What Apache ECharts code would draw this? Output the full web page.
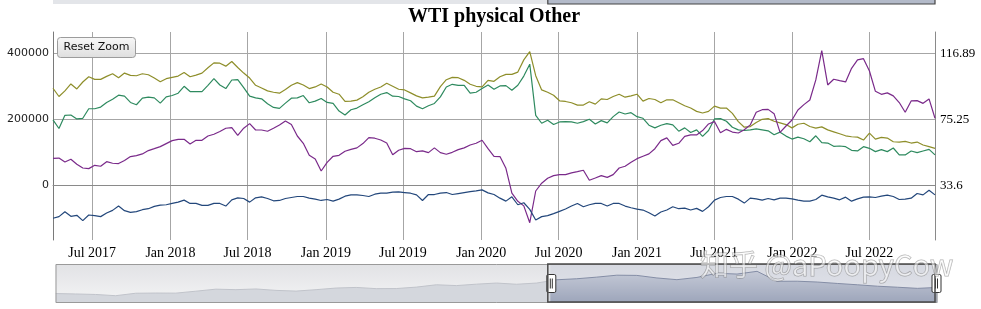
<!DOCTYPE html>
<html>
<head>
<meta charset="utf-8">
<script src="https://cdn.jsdelivr.net/npm/echarts/dist/echarts.min.js"></script>
<style>html,body{margin:0;padding:0;background:#fff}#chart{width:981px;height:309px}</style>
</head>
<body>
<div id="chart"></div>
<script>
// ---------------- DATA ----------------
const titleText = 'WTI physical Other';
const firstDate = [2017, 2, 31];      // 2017-03-31, biweekly observations
const stepDays = 14;
const pointCount = 149;

// left axis series (contracts)
const oliveValues = [
 294000,269000,286000,307000,292000,313000,329000,321000,321000,330000,338000,326000,340000,333000,332000,338000,335000,325000,314000,323000,327000,331000,342000,329000,334000,340000,356000,371000,370000,361000,375000,357000,340000,325000,303000,295000,286000,
 282000,279000,290000,303000,311000,304000,293000,298000,307000,298000,282000,276000,254000,255000,258000,268000,282000,291000,298000,309000,300000,291000,289000,280000,271000,265000,267000,270000,299000,320000,327000,326000,318000,306000,300000,298000,318000,
 315000,329000,336000,336000,343000,380000,405000,332000,289000,282000,273000,256000,254000,250000,243000,243000,253000,246000,262000,260000,269000,276000,267000,271000,276000,255000,263000,260000,250000,259000,259000,250000,241000,234000,224000,219000,224000,
 240000,234000,234000,218000,193000,176000,178000,190000,200000,202000,194000,189000,184000,174000,185000,188000,178000,173000,177000,168000,162000,156000,150000,147000,146000,137000,158000,140000,145000,143000,132000,131000,133000,128000,131000,122000,117000,112000];
const greenValues = [
 198000,172000,212000,213000,201000,203000,232000,232000,237000,251000,261000,273000,270000,251000,244000,264000,267000,265000,249000,268000,272000,279000,300000,284000,284000,284000,303000,323000,304000,293000,319000,320000,296000,270000,265000,262000,247000,
 236000,233000,249000,264000,265000,272000,250000,255000,263000,251000,248000,225000,213000,229000,234000,244000,253000,265000,276000,281000,270000,269000,262000,256000,240000,232000,241000,248000,268000,298000,306000,303000,303000,279000,282000,293000,304000,
 291000,301000,302000,288000,303000,331000,367000,212000,188000,197000,184000,192000,193000,192000,188000,193000,200000,186000,196000,189000,208000,222000,216000,220000,208000,203000,182000,174000,182000,187000,183000,164000,174000,160000,168000,148000,166000,
 201000,202000,194000,176000,168000,166000,168000,171000,168000,165000,153000,161000,149000,140000,146000,141000,132000,150000,129000,128000,118000,119000,117000,106000,104000,117000,112000,102000,108000,102000,113000,92000,92000,104000,99000,104000,109000,92000];
const blueValues = [
 -100000,-95000,-80000,-94000,-91000,-107000,-90000,-92000,-95000,-84000,-76000,-63000,-77000,-82000,-80000,-74000,-71000,-64000,-60000,-59000,-55000,-51000,-45000,-55000,-55000,-61000,-61000,-55000,-55000,-63000,-44000,-38000,-40000,-51000,-38000,-35000,-40000,
 -47000,-46000,-40000,-37000,-34000,-34000,-39000,-42000,-46000,-43000,-48000,-42000,-33000,-29000,-29000,-31000,-34000,-27000,-24000,-24000,-21000,-20000,-22000,-24000,-29000,-46000,-28000,-28000,-24000,-22000,-28000,-25000,-22000,-19000,-17000,-14000,-23000,
 -28000,-39000,-48000,-35000,-59000,-53000,-73000,-105000,-95000,-92000,-86000,-79000,-72000,-63000,-55000,-65000,-59000,-55000,-55000,-63000,-55000,-55000,-63000,-68000,-72000,-75000,-83000,-93000,-81000,-75000,-65000,-71000,-69000,-75000,-70000,-79000,-65000,
 -45000,-37000,-34000,-34000,-42000,-54000,-39000,-41000,-45000,-40000,-44000,-39000,-39000,-41000,-45000,-48000,-48000,-43000,-30000,-35000,-39000,-44000,-36000,-48000,-41000,-36000,-35000,-37000,-33000,-30000,-34000,-43000,-42000,-39000,-25000,-29000,-15000,-29000];
// right axis series (WTI price, USD)
const purpleValues = [
 50.6,50.8,48.3,50.0,46.9,44.5,44.1,46.2,45.6,48.5,47.5,47.3,49.2,51.7,52.3,53.4,55.5,56.7,58.0,59.9,61.8,62.6,62.6,59.7,62.0,62.0,64.7,65.8,67.5,69.6,70.0,65.1,69.6,72.5,68.5,68.5,67.7,
 69.6,71.7,74.2,71.9,64.7,60.1,52.5,50.2,42.6,48.1,51.9,52.5,55.1,56.3,57.2,59.9,63.7,63.3,62.2,60.3,52.9,55.7,56.9,56.7,54.8,55.3,54.2,57.2,54.2,53.2,54.4,56.1,57.2,59.0,60.1,62.0,56.7,
 51.9,51.7,44.3,28.6,23.5,20.6,10.0,30.0,34.9,38.0,39.7,40.3,40.3,41.4,42.2,43.1,36.8,38.2,39.7,38.6,40.3,44.5,45.6,48.1,50.4,51.9,53.4,56.7,61.8,63.5,58.8,60.1,64.5,65.4,65.4,68.1,72.3,
 73.8,66.8,68.9,67.2,66.6,68.7,71.7,79.7,81.3,81.5,78.8,67.0,71.0,74.8,81.1,84.5,87.4,100.1,118.6,96.9,100.5,99.6,98.8,107.4,112.7,113.5,105.7,92.9,91.0,91.9,90.0,85.8,79.7,86.8,87.0,85.3,88.1,75.9];

// axis ticks
const leftTickValues = [0, 200000, 400000];
const rightTickLabels = ['33.6', '75.25', '116.89'];
const leftMin = -165800, leftMax = 464500;

// navigator series (evenly spaced across the full range)
const navigatorValues = [67000,63000,58000,46000,70000,72000,71000,90000,110000,105000,112000,98000,91000,105000,121000,127000,115000,116000,130000,153000,145000,159000,170000,158000,170000,202000,212000,228000,247000,245000,220000,203000,225000,266000,258000,285000,187000,188000,180000,166000,153000,139000,129000,118000,127000];
const navigatorStartPercent = 56.1;
const watermarkText = '知乎 @aPoopyCow';

// ---------------- BUILD ----------------
const dates = [];
for (let i = 0; i < pointCount; i++) {
  dates.push(new Date(firstDate[0], firstDate[1], firstDate[2] + i * stepDays).getTime());
}
const pair = (vals) => vals.map((v, i) => [dates[i], v]);
const rSlope = (116.89 - 33.6) / 400000;
const toRight = (v) => 33.6 + v * rSlope;
const navCats = navigatorValues.map((v, i) => String(i));

const MONTHS = ['Jan','Feb','Mar','Apr','May','Jun','Jul','Aug','Sep','Oct','Nov','Dec'];

const plotLeft = 53, plotRight = 935, plotW = plotRight - plotLeft;

const chart = echarts.init(document.getElementById('chart'), null, {renderer: 'canvas'});
const lineBase = {type: 'line', showSymbol: false, symbol: 'none', animation: false, silent: true};

chart.setOption({
  animation: false,
  backgroundColor: '#ffffff',
  grid: [
    {left: plotLeft, right: 981 - plotRight, top: 32, height: 208},
    {left: plotLeft, right: 981 - plotRight, top: 264, height: 39, show: false}
  ],
  xAxis: [
    {
      type: 'time', gridIndex: 0,
      min: dates[0], max: dates[dates.length - 1],
      splitNumber: 11,
      minInterval: 182 * 86400000, maxInterval: 182 * 86400000,
      axisLine: {show: true, lineStyle: {color: '#8a8a8a', width: 1}},
      axisTick: {show: false},
      splitLine: {show: true, lineStyle: {color: '#a6a6a6', width: 1}},
      axisLabel: {
        showMinLabel: false, showMaxLabel: false,
        fontFamily: 'Liberation Serif', fontSize: 14, color: '#000', margin: 6,
        formatter: function (val) {
          const d = new Date(val);
          return MONTHS[d.getMonth()] + ' ' + d.getFullYear();
        }
      }
    },
    {type: 'category', gridIndex: 1, data: navCats, show: false, boundaryGap: false}
  ],
  yAxis: [
    {
      type: 'value', gridIndex: 0, position: 'left',
      min: leftMin, max: leftMax, splitNumber: 3,
      axisLine: {show: true, lineStyle: {color: '#7a7a7a', width: 1}},
      axisTick: {show: false},
      splitLine: {show: true, showMinLine: false, showMaxLine: false, lineStyle: {color: '#a6a6a6', width: 1}},
      axisLabel: {
        showMinLabel: false, showMaxLabel: false,
        fontFamily: 'DejaVu Sans', fontSize: 11, color: '#222', margin: 4,
        formatter: function (v) { return leftTickValues.indexOf(v) >= 0 ? String(v) : ''; }
      }
    },
    {
      type: 'value', gridIndex: 0, position: 'right',
      min: leftMin, max: leftMax, splitNumber: 3,
      axisLine: {show: true, onZero: false, lineStyle: {color: '#8a8a8a', width: 1}},
      axisTick: {show: false},
      splitLine: {show: false},
      axisLabel: {
        showMinLabel: false, showMaxLabel: false,
        fontFamily: 'Liberation Serif', fontSize: 13, color: '#000', margin: 5,
        formatter: function (v) { const k = leftTickValues.indexOf(v); return k >= 0 ? rightTickLabels[k] : ''; }
      }
    },
    {
      type: 'value', gridIndex: 0, show: false,
      min: toRight(leftMin), max: toRight(leftMax)
    },
    {type: 'value', gridIndex: 1, show: false, scale: true}
  ],
  dataZoom: [{
    type: 'slider', xAxisIndex: 1, filterMode: 'none',
    start: navigatorStartPercent, end: 100,
    left: plotLeft, right: 981 - plotRight, top: 264, height: 39,
    showDetail: false, brushSelect: false, moveHandleSize: 0,
    borderColor: '#9a9a9a', borderRadius: 0,
    backgroundColor: new echarts.graphic.LinearGradient(0, 0, 0, 1, [
      {offset: 0, color: '#f4f4f5'}, {offset: 1, color: '#e1e2e5'}]),
    fillerColor: 'rgba(188,196,214,0.30)',
    dataBackground: {
      lineStyle: {color: '#c0c3ca', width: 1, opacity: 1},
      areaStyle: {color: '#d4d7dd', opacity: 1}
    },
    selectedDataBackground: {
      lineStyle: {color: '#6c7690', width: 1, opacity: 1},
      areaStyle: {color: new echarts.graphic.LinearGradient(0, 0, 0, 1, [
        {offset: 0, color: '#8f98ae'}, {offset: 1, color: '#c8ccd6'}]), opacity: 1}
    },
    handleIcon: 'path://M1.5,0 H7.5 A1.5,1.5 0 0 1 9,1.5 V16.5 A1.5,1.5 0 0 1 7.5,18 H1.5 A1.5,1.5 0 0 1 0,16.5 V1.5 A1.5,1.5 0 0 1 1.5,0 Z M3.5,4 V14 M5.5,4 V14',
    handleSize: 18,
    handleStyle: {color: '#ffffff', borderColor: '#333333', borderWidth: 1},
    moveHandleStyle: {opacity: 0},
    emphasis: {handleStyle: {color: '#ffffff', borderColor: '#333333'}}
  }],
  series: [
    Object.assign({}, lineBase, {name: 'olive', xAxisIndex: 0, yAxisIndex: 0, data: pair(oliveValues),
      lineStyle: {color: '#8e8e2a', width: 1.2}, itemStyle: {color: '#8e8e2a'}}),
    Object.assign({}, lineBase, {name: 'green', xAxisIndex: 0, yAxisIndex: 0, data: pair(greenValues),
      lineStyle: {color: '#2e8a5f', width: 1.2}, itemStyle: {color: '#2e8a5f'}}),
    Object.assign({}, lineBase, {name: 'purple', xAxisIndex: 0, yAxisIndex: 2, data: pair(purpleValues),
      lineStyle: {color: '#7a2a8a', width: 1.2}, itemStyle: {color: '#7a2a8a'}}),
    Object.assign({}, lineBase, {name: 'blue', xAxisIndex: 0, yAxisIndex: 0, data: pair(blueValues),
      lineStyle: {color: '#23477b', width: 1.2}, itemStyle: {color: '#23477b'}}),
    Object.assign({}, lineBase, {name: 'navigator', xAxisIndex: 1, yAxisIndex: 3, data: navigatorValues,
      lineStyle: {opacity: 0}, itemStyle: {opacity: 0}})
  ],
  graphic: [
    // remnant of the chart above
    {type: 'rect', shape: {x: plotLeft, y: -2, width: plotW * navigatorStartPercent / 100, height: 6}, style: {fill: '#e3e5e9'}, silent: true},
    {type: 'rect', shape: {x: plotLeft + plotW * navigatorStartPercent / 100, y: -2, width: plotW * (1 - navigatorStartPercent / 100), height: 6}, style: {fill: '#b3bac9', stroke: '#444', lineWidth: 1.2}, silent: true},
    // title
    {type: 'text', x: (plotLeft + plotRight) / 2, y: 17, silent: true,
      style: {text: titleText, fill: '#000', font: 'bold 20px "Liberation Serif"', align: 'center', verticalAlign: 'middle'}},
    // reset zoom button
    {type: 'rect', shape: {x: 57.5, y: 37.5, width: 78, height: 20, r: 3}, silent: true, z: 100,
      style: {fill: new echarts.graphic.LinearGradient(0, 0, 0, 1, [{offset: 0, color: '#f8f8f8'}, {offset: 1, color: '#dedede'}]), stroke: '#9c9c9c', lineWidth: 1}},
    {type: 'text', x: 96.5, y: 47.5, silent: true, z: 101,
      style: {text: 'Reset Zoom', fill: '#111', font: '11px "DejaVu Sans"', align: 'center', verticalAlign: 'middle'}},
    // frame around the navigator selection
    {type: 'rect', shape: {x: plotLeft + plotW * navigatorStartPercent / 100, y: 264, width: plotW * (1 - navigatorStartPercent / 100), height: 38}, silent: true, z: 90,
      style: {fill: 'none', stroke: '#4a4a4a', lineWidth: 1.5}},
    // watermark
    {type: 'text', x: 700, y: 265, silent: true, z: 200,
      style: {text: watermarkText, fill: 'rgba(255,255,255,0.55)', stroke: 'rgba(110,110,110,0.55)', lineWidth: 1,
        font: '29px "Noto Sans CJK SC"', align: 'left', verticalAlign: 'middle'}}
  ]
});
</script>
</body>
</html>
